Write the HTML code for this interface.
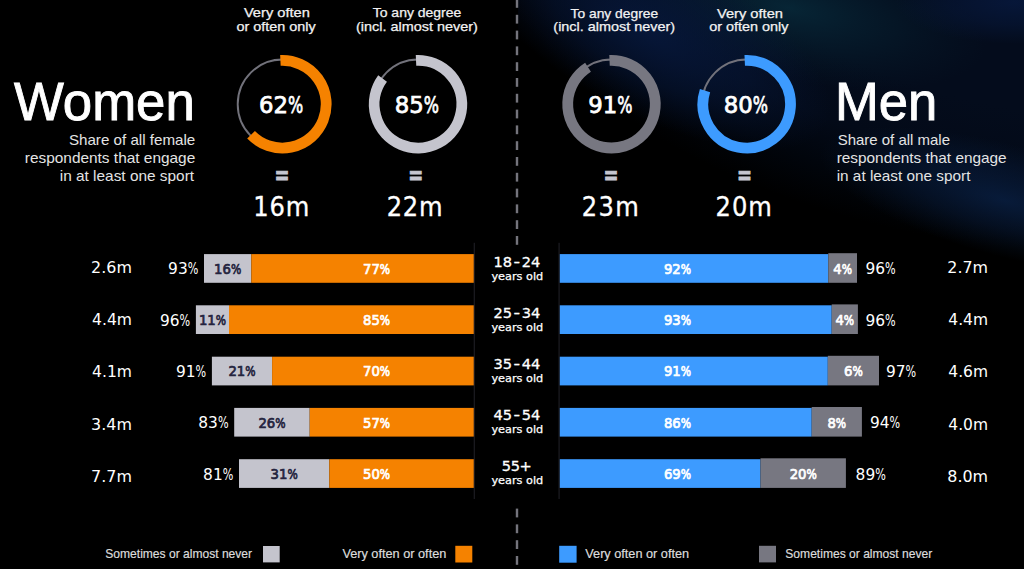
<!DOCTYPE html>
<html lang="en">
<head>
<meta charset="utf-8">
<title>Sports engagement: Women and Men</title>
<style>
html,body{margin:0;padding:0;background:#000;}
body{width:1024px;height:569px;overflow:hidden;position:relative;font-family:'Liberation Sans',sans-serif;}
svg{position:absolute;left:0;top:0;display:block;}
text{white-space:pre;}
</style>
</head>
<body>
<svg width="1024" height="569" viewBox="0 0 1024 569">
<defs>
<radialGradient id="base" gradientUnits="userSpaceOnUse" cx="0" cy="0" r="1" gradientTransform="translate(1124 -150) scale(664 404)">
<stop offset="0" stop-color="#040c1c"/><stop offset=".66" stop-color="#040c1c"/><stop offset=".8" stop-color="#030a18"/><stop offset=".9" stop-color="#01050c"/><stop offset="1" stop-color="#000"/>
</radialGradient>
<radialGradient id="gBlue"><stop offset="0" stop-color="#0a2248" stop-opacity=".75"/><stop offset=".5" stop-color="#0a2044" stop-opacity=".42"/><stop offset="1" stop-color="#0a2040" stop-opacity="0"/></radialGradient>
<radialGradient id="gTeal"><stop offset="0" stop-color="#083040" stop-opacity=".7"/><stop offset=".55" stop-color="#072838" stop-opacity=".33"/><stop offset="1" stop-color="#062030" stop-opacity="0"/></radialGradient>
<radialGradient id="gNavy"><stop offset="0" stop-color="#07183c" stop-opacity=".9"/><stop offset=".55" stop-color="#07183c" stop-opacity=".5"/><stop offset="1" stop-color="#07183c" stop-opacity="0"/></radialGradient>
<clipPath id="rh"><rect x="518" y="0" width="506" height="300"/></clipPath>
</defs>
<g clip-path="url(#rh)">
<rect x="518" y="0" width="506" height="300" fill="url(#base)"/>
<ellipse cx="1004" cy="200" rx="190" ry="56" fill="url(#gBlue)" transform="rotate(15 1004 200)"/>
<ellipse cx="790" cy="8" rx="200" ry="72" fill="url(#gTeal)" transform="rotate(12 790 8)"/>
<ellipse cx="650" cy="32" rx="200" ry="82" fill="url(#gNavy)" transform="rotate(28 650 32)"/>
<ellipse cx="1015" cy="2" rx="120" ry="42" fill="url(#gNavy)"/>
</g>
<rect x="515.8" y="-1.0" width="2.4" height="8.8" fill="#74747c"/>
<rect x="515.8" y="14.8" width="2.4" height="8.8" fill="#74747c"/>
<rect x="515.8" y="30.6" width="2.4" height="8.8" fill="#74747c"/>
<rect x="515.8" y="46.4" width="2.4" height="8.8" fill="#74747c"/>
<rect x="515.8" y="62.2" width="2.4" height="8.8" fill="#74747c"/>
<rect x="515.8" y="78.0" width="2.4" height="8.8" fill="#74747c"/>
<rect x="515.8" y="93.8" width="2.4" height="8.8" fill="#74747c"/>
<rect x="515.8" y="109.6" width="2.4" height="8.8" fill="#74747c"/>
<rect x="515.8" y="125.4" width="2.4" height="8.8" fill="#74747c"/>
<rect x="515.8" y="141.2" width="2.4" height="8.8" fill="#74747c"/>
<rect x="515.8" y="157.0" width="2.4" height="8.8" fill="#74747c"/>
<rect x="515.8" y="172.8" width="2.4" height="8.8" fill="#74747c"/>
<rect x="515.8" y="188.6" width="2.4" height="8.8" fill="#74747c"/>
<rect x="515.8" y="204.4" width="2.4" height="8.8" fill="#74747c"/>
<rect x="515.8" y="220.2" width="2.4" height="8.8" fill="#74747c"/>
<rect x="515.8" y="236.0" width="2.4" height="8.8" fill="#74747c"/>
<rect x="515.8" y="508.6" width="2.4" height="8.8" fill="#74747c"/>
<rect x="515.8" y="524.4" width="2.4" height="8.8" fill="#74747c"/>
<rect x="515.8" y="540.2" width="2.4" height="8.8" fill="#74747c"/>
<rect x="515.8" y="556.0" width="2.4" height="8.8" fill="#74747c"/>
<text x="243.93" y="17.2" font-family="'Liberation Sans', sans-serif" font-size="13" fill="#f2f2f2" textLength="65.91" lengthAdjust="spacingAndGlyphs" stroke="#f2f2f2" stroke-width="0.25">Very often</text>
<text x="236.53" y="30.9" font-family="'Liberation Sans', sans-serif" font-size="13" fill="#f2f2f2" textLength="79.1" lengthAdjust="spacingAndGlyphs" stroke="#f2f2f2" stroke-width="0.25">or often only</text>
<text x="372.73" y="17.2" font-family="'Liberation Sans', sans-serif" font-size="13" fill="#f2f2f2" textLength="88.6" lengthAdjust="spacingAndGlyphs" stroke="#f2f2f2" stroke-width="0.25">To any degree</text>
<text x="356.02" y="30.9" font-family="'Liberation Sans', sans-serif" font-size="13" fill="#f2f2f2" textLength="121.82" lengthAdjust="spacingAndGlyphs" stroke="#f2f2f2" stroke-width="0.25">(incl. almost never)</text>
<text x="570.62" y="17.8" font-family="'Liberation Sans', sans-serif" font-size="13" fill="#f2f2f2" textLength="87.49" lengthAdjust="spacingAndGlyphs" stroke="#f2f2f2" stroke-width="0.25">To any degree</text>
<text x="553.33" y="31.4" font-family="'Liberation Sans', sans-serif" font-size="13" fill="#f2f2f2" textLength="121.82" lengthAdjust="spacingAndGlyphs" stroke="#f2f2f2" stroke-width="0.25">(incl. almost never)</text>
<text x="716.92" y="17.8" font-family="'Liberation Sans', sans-serif" font-size="13" fill="#f2f2f2" textLength="66.11" lengthAdjust="spacingAndGlyphs" stroke="#f2f2f2" stroke-width="0.25">Very often</text>
<text x="709.23" y="31.4" font-family="'Liberation Sans', sans-serif" font-size="13" fill="#f2f2f2" textLength="79.3" lengthAdjust="spacingAndGlyphs" stroke="#f2f2f2" stroke-width="0.25">or often only</text>
<circle cx="282.4" cy="104.2" r="44.7" fill="none" stroke="#72727b" stroke-width="1.9"/>
<path d="M280.41 60.45 A43.800000000000004 43.800000000000004 0 1 1 251.05 134.79" fill="none" stroke="#f58200" stroke-width="10.8"/>
<circle cx="418.0" cy="104.2" r="44.7" fill="none" stroke="#72727b" stroke-width="1.9"/>
<path d="M416.01 60.45 A43.800000000000004 43.800000000000004 0 1 1 382.57 78.46" fill="none" stroke="#c4c4cd" stroke-width="10.8"/>
<circle cx="611.5" cy="104.2" r="44.7" fill="none" stroke="#72727b" stroke-width="1.9"/>
<path d="M609.51 60.45 A43.800000000000004 43.800000000000004 0 1 1 588.03 67.22" fill="none" stroke="#777781" stroke-width="10.8"/>
<circle cx="746.7" cy="104.2" r="44.7" fill="none" stroke="#72727b" stroke-width="1.9"/>
<path d="M744.71 60.45 A43.800000000000004 43.800000000000004 0 1 1 705.04 90.67" fill="none" stroke="#3d9bff" stroke-width="10.8"/>
<text x="281.1" y="113.0" font-family="'DejaVu Sans', 'Liberation Sans', sans-serif" font-size="22.8" text-anchor="middle" fill="#fff" stroke="#fff" stroke-width="0.75">62<tspan textLength="15.2" lengthAdjust="spacingAndGlyphs">%</tspan></text>
<text x="416.95" y="113.0" font-family="'DejaVu Sans', 'Liberation Sans', sans-serif" font-size="22.8" text-anchor="middle" fill="#fff" stroke="#fff" stroke-width="0.75">85<tspan textLength="15.2" lengthAdjust="spacingAndGlyphs">%</tspan></text>
<text x="610.35" y="113.0" font-family="'DejaVu Sans', 'Liberation Sans', sans-serif" font-size="22.8" text-anchor="middle" fill="#fff" stroke="#fff" stroke-width="0.75">91<tspan textLength="15.2" lengthAdjust="spacingAndGlyphs">%</tspan></text>
<text x="745.8" y="113.0" font-family="'DejaVu Sans', 'Liberation Sans', sans-serif" font-size="22.8" text-anchor="middle" fill="#fff" stroke="#fff" stroke-width="0.75">80<tspan textLength="15.2" lengthAdjust="spacingAndGlyphs">%</tspan></text>
<text x="282.0" y="183.9" font-family="'DejaVu Sans', 'Liberation Sans', sans-serif" font-size="25.3" text-anchor="middle" fill="#c6c6d0" font-weight="bold" textLength="15.0" lengthAdjust="spacingAndGlyphs" stroke="#c6c6d0" stroke-width="1.0">=</text>
<text x="415.7" y="183.9" font-family="'DejaVu Sans', 'Liberation Sans', sans-serif" font-size="25.3" text-anchor="middle" fill="#c6c6d0" font-weight="bold" textLength="15.0" lengthAdjust="spacingAndGlyphs" stroke="#c6c6d0" stroke-width="1.0">=</text>
<text x="610.9" y="183.9" font-family="'DejaVu Sans', 'Liberation Sans', sans-serif" font-size="25.3" text-anchor="middle" fill="#c6c6d0" font-weight="bold" textLength="15.0" lengthAdjust="spacingAndGlyphs" stroke="#c6c6d0" stroke-width="1.0">=</text>
<text x="744.6" y="183.9" font-family="'DejaVu Sans', 'Liberation Sans', sans-serif" font-size="25.3" text-anchor="middle" fill="#c6c6d0" font-weight="bold" textLength="15.0" lengthAdjust="spacingAndGlyphs" stroke="#c6c6d0" stroke-width="1.0">=</text>
<text x="253.35" y="215.5" font-family="'DejaVu Sans Condensed', 'DejaVu Sans', 'Liberation Sans', sans-serif" font-size="26.9" fill="#fff" textLength="55.88" lengthAdjust="spacing" stroke="#fff" stroke-width="0.3">16m</text>
<text x="386.65" y="215.5" font-family="'DejaVu Sans Condensed', 'DejaVu Sans', 'Liberation Sans', sans-serif" font-size="26.9" fill="#fff" textLength="55.88" lengthAdjust="spacing" stroke="#fff" stroke-width="0.3">22m</text>
<text x="581.85" y="215.5" font-family="'DejaVu Sans Condensed', 'DejaVu Sans', 'Liberation Sans', sans-serif" font-size="26.9" fill="#fff" textLength="56.93" lengthAdjust="spacing" stroke="#fff" stroke-width="0.3">23m</text>
<text x="715.45" y="215.5" font-family="'DejaVu Sans Condensed', 'DejaVu Sans', 'Liberation Sans', sans-serif" font-size="26.9" fill="#fff" textLength="56.48" lengthAdjust="spacing" stroke="#fff" stroke-width="0.3">20m</text>
<text x="13.95" y="120.3" font-family="'Liberation Sans', sans-serif" font-size="53.2" fill="#fff" textLength="180.86" lengthAdjust="spacingAndGlyphs" stroke="#fff" stroke-width="0.9">Women</text>
<text x="834.99" y="120.3" font-family="'Liberation Sans', sans-serif" font-size="53.2" fill="#fff" textLength="102.31" lengthAdjust="spacingAndGlyphs" stroke="#fff" stroke-width="0.9">Men</text>
<text x="68.9" y="145.4" font-family="'Liberation Sans', sans-serif" font-size="15" fill="#e4e4e4" textLength="126.35" lengthAdjust="spacingAndGlyphs">Share of all female</text>
<text x="24.77" y="162.9" font-family="'Liberation Sans', sans-serif" font-size="15" fill="#e4e4e4" textLength="170.48" lengthAdjust="spacingAndGlyphs">respondents that engage</text>
<text x="59.77" y="180.6" font-family="'Liberation Sans', sans-serif" font-size="15" fill="#e4e4e4" textLength="134.27" lengthAdjust="spacingAndGlyphs">in at least one sport</text>
<text x="837.7" y="145.4" font-family="'Liberation Sans', sans-serif" font-size="15" fill="#e4e4e4" textLength="112.34" lengthAdjust="spacingAndGlyphs">Share of all male</text>
<text x="836.68" y="162.9" font-family="'Liberation Sans', sans-serif" font-size="15" fill="#e4e4e4" textLength="169.97" lengthAdjust="spacingAndGlyphs">respondents that engage</text>
<text x="836.68" y="180.6" font-family="'Liberation Sans', sans-serif" font-size="15" fill="#e4e4e4" textLength="133.77" lengthAdjust="spacingAndGlyphs">in at least one sport</text>
<rect x="204.0" y="254.1" width="47.3" height="28.7" fill="#c4c4cd"/>
<rect x="251.3" y="254.1" width="223.0" height="28.7" fill="#f58200"/>
<text x="91.12" y="272.6" font-family="'DejaVu Sans', 'Liberation Sans', sans-serif" font-size="16.2" fill="#fff" textLength="40.84" lengthAdjust="spacingAndGlyphs">2.6m</text>
<text x="198.3" y="274.45" font-family="'DejaVu Sans', 'Liberation Sans', sans-serif" font-size="15.4" text-anchor="end" fill="#fff">93<tspan textLength="10.6" lengthAdjust="spacingAndGlyphs">%</tspan></text>
<text x="227.65" y="273.75" font-family="'DejaVu Sans Condensed', 'DejaVu Sans', 'Liberation Sans', sans-serif" font-size="14.7" text-anchor="middle" fill="#24243e" stroke="#24243e" stroke-width="0.7">16<tspan textLength="10.3" lengthAdjust="spacingAndGlyphs">%</tspan></text>
<text x="376.6" y="273.75" font-family="'DejaVu Sans Condensed', 'DejaVu Sans', 'Liberation Sans', sans-serif" font-size="14.7" text-anchor="middle" fill="#fff" stroke="#fff" stroke-width="0.7">77<tspan textLength="10.3" lengthAdjust="spacingAndGlyphs">%</tspan></text>
<rect x="559.4" y="254.1" width="268.9" height="28.7" fill="#3d9bff"/>
<rect x="828.3" y="253.2" width="28.7" height="29.6" fill="#777781"/>
<text x="947.32" y="272.6" font-family="'DejaVu Sans', 'Liberation Sans', sans-serif" font-size="16.2" fill="#fff" textLength="40.74" lengthAdjust="spacingAndGlyphs">2.7m</text>
<text x="865.4" y="274.45" font-family="'DejaVu Sans', 'Liberation Sans', sans-serif" font-size="15.4" fill="#fff">96<tspan textLength="10.6" lengthAdjust="spacingAndGlyphs">%</tspan></text>
<text x="842.65" y="273.75" font-family="'DejaVu Sans Condensed', 'DejaVu Sans', 'Liberation Sans', sans-serif" font-size="14.7" text-anchor="middle" fill="#fff" stroke="#fff" stroke-width="0.7">4<tspan textLength="10.3" lengthAdjust="spacingAndGlyphs">%</tspan></text>
<text x="677.5" y="273.75" font-family="'DejaVu Sans Condensed', 'DejaVu Sans', 'Liberation Sans', sans-serif" font-size="14.7" text-anchor="middle" fill="#fff" stroke="#fff" stroke-width="0.7">92<tspan textLength="10.3" lengthAdjust="spacingAndGlyphs">%</tspan></text>
<text x="493.4" y="267.1" font-family="'DejaVu Sans', 'Liberation Sans', sans-serif" font-size="14.6" fill="#fff" stroke="#fff" stroke-width="0.3">18<tspan dx="1.6" textLength="6.6" lengthAdjust="spacingAndGlyphs">-</tspan><tspan dx="1.6">24</tspan></text>
<text x="491.43" y="280.2" font-family="'DejaVu Sans', 'Liberation Sans', sans-serif" font-size="11.0" fill="#fff" textLength="51.76" lengthAdjust="spacingAndGlyphs" stroke="#fff" stroke-width="0.25">years old</text>
<rect x="195.9" y="305.3" width="33.1" height="28.7" fill="#c4c4cd"/>
<rect x="229.0" y="305.3" width="245.3" height="28.7" fill="#f58200"/>
<text x="92.1" y="324.7" font-family="'DejaVu Sans', 'Liberation Sans', sans-serif" font-size="16.2" fill="#fff" textLength="39.84" lengthAdjust="spacingAndGlyphs">4.4m</text>
<text x="190.2" y="325.65" font-family="'DejaVu Sans', 'Liberation Sans', sans-serif" font-size="15.4" text-anchor="end" fill="#fff">96<tspan textLength="10.6" lengthAdjust="spacingAndGlyphs">%</tspan></text>
<text x="212.45" y="324.95" font-family="'DejaVu Sans Condensed', 'DejaVu Sans', 'Liberation Sans', sans-serif" font-size="14.7" text-anchor="middle" fill="#24243e" stroke="#24243e" stroke-width="0.7">11<tspan textLength="10.3" lengthAdjust="spacingAndGlyphs">%</tspan></text>
<text x="376.6" y="324.95" font-family="'DejaVu Sans Condensed', 'DejaVu Sans', 'Liberation Sans', sans-serif" font-size="14.7" text-anchor="middle" fill="#fff" stroke="#fff" stroke-width="0.7">85<tspan textLength="10.3" lengthAdjust="spacingAndGlyphs">%</tspan></text>
<rect x="559.4" y="305.3" width="272.3" height="28.7" fill="#3d9bff"/>
<rect x="831.7" y="304.4" width="26.2" height="29.6" fill="#777781"/>
<text x="948.3" y="324.7" font-family="'DejaVu Sans', 'Liberation Sans', sans-serif" font-size="16.2" fill="#fff" textLength="39.74" lengthAdjust="spacingAndGlyphs">4.4m</text>
<text x="865.4" y="325.65" font-family="'DejaVu Sans', 'Liberation Sans', sans-serif" font-size="15.4" fill="#fff">96<tspan textLength="10.6" lengthAdjust="spacingAndGlyphs">%</tspan></text>
<text x="844.8" y="324.95" font-family="'DejaVu Sans Condensed', 'DejaVu Sans', 'Liberation Sans', sans-serif" font-size="14.7" text-anchor="middle" fill="#fff" stroke="#fff" stroke-width="0.7">4<tspan textLength="10.3" lengthAdjust="spacingAndGlyphs">%</tspan></text>
<text x="677.5" y="324.95" font-family="'DejaVu Sans Condensed', 'DejaVu Sans', 'Liberation Sans', sans-serif" font-size="14.7" text-anchor="middle" fill="#fff" stroke="#fff" stroke-width="0.7">93<tspan textLength="10.3" lengthAdjust="spacingAndGlyphs">%</tspan></text>
<text x="493.4" y="318.15" font-family="'DejaVu Sans', 'Liberation Sans', sans-serif" font-size="14.6" fill="#fff" stroke="#fff" stroke-width="0.3">25<tspan dx="1.6" textLength="6.6" lengthAdjust="spacingAndGlyphs">-</tspan><tspan dx="1.6">34</tspan></text>
<text x="491.43" y="331.25" font-family="'DejaVu Sans', 'Liberation Sans', sans-serif" font-size="11.0" fill="#fff" textLength="51.76" lengthAdjust="spacingAndGlyphs" stroke="#fff" stroke-width="0.25">years old</text>
<rect x="211.9" y="356.7" width="60.2" height="28.7" fill="#c4c4cd"/>
<rect x="272.1" y="356.7" width="202.2" height="28.7" fill="#f58200"/>
<text x="92.1" y="376.9" font-family="'DejaVu Sans', 'Liberation Sans', sans-serif" font-size="16.2" fill="#fff" textLength="39.84" lengthAdjust="spacingAndGlyphs">4.1m</text>
<text x="206.2" y="377.05" font-family="'DejaVu Sans', 'Liberation Sans', sans-serif" font-size="15.4" text-anchor="end" fill="#fff">91<tspan textLength="10.6" lengthAdjust="spacingAndGlyphs">%</tspan></text>
<text x="242.0" y="376.35" font-family="'DejaVu Sans Condensed', 'DejaVu Sans', 'Liberation Sans', sans-serif" font-size="14.7" text-anchor="middle" fill="#24243e" stroke="#24243e" stroke-width="0.7">21<tspan textLength="10.3" lengthAdjust="spacingAndGlyphs">%</tspan></text>
<text x="376.6" y="376.35" font-family="'DejaVu Sans Condensed', 'DejaVu Sans', 'Liberation Sans', sans-serif" font-size="14.7" text-anchor="middle" fill="#fff" stroke="#fff" stroke-width="0.7">70<tspan textLength="10.3" lengthAdjust="spacingAndGlyphs">%</tspan></text>
<rect x="559.4" y="356.7" width="268.4" height="28.7" fill="#3d9bff"/>
<rect x="827.8" y="355.8" width="51.2" height="29.6" fill="#777781"/>
<text x="948.3" y="376.9" font-family="'DejaVu Sans', 'Liberation Sans', sans-serif" font-size="16.2" fill="#fff" textLength="39.74" lengthAdjust="spacingAndGlyphs">4.6m</text>
<text x="885.9" y="377.05" font-family="'DejaVu Sans', 'Liberation Sans', sans-serif" font-size="15.4" fill="#fff">97<tspan textLength="10.6" lengthAdjust="spacingAndGlyphs">%</tspan></text>
<text x="853.4" y="376.35" font-family="'DejaVu Sans Condensed', 'DejaVu Sans', 'Liberation Sans', sans-serif" font-size="14.7" text-anchor="middle" fill="#fff" stroke="#fff" stroke-width="0.7">6<tspan textLength="10.3" lengthAdjust="spacingAndGlyphs">%</tspan></text>
<text x="677.5" y="376.35" font-family="'DejaVu Sans Condensed', 'DejaVu Sans', 'Liberation Sans', sans-serif" font-size="14.7" text-anchor="middle" fill="#fff" stroke="#fff" stroke-width="0.7">91<tspan textLength="10.3" lengthAdjust="spacingAndGlyphs">%</tspan></text>
<text x="493.4" y="369.2" font-family="'DejaVu Sans', 'Liberation Sans', sans-serif" font-size="14.6" fill="#fff" stroke="#fff" stroke-width="0.3">35<tspan dx="1.6" textLength="6.6" lengthAdjust="spacingAndGlyphs">-</tspan><tspan dx="1.6">44</tspan></text>
<text x="491.43" y="382.3" font-family="'DejaVu Sans', 'Liberation Sans', sans-serif" font-size="11.0" fill="#fff" textLength="51.76" lengthAdjust="spacingAndGlyphs" stroke="#fff" stroke-width="0.25">years old</text>
<rect x="234.2" y="407.9" width="75.5" height="28.7" fill="#c4c4cd"/>
<rect x="309.7" y="407.9" width="164.6" height="28.7" fill="#f58200"/>
<text x="91.12" y="429.7" font-family="'DejaVu Sans', 'Liberation Sans', sans-serif" font-size="16.2" fill="#fff" textLength="40.84" lengthAdjust="spacingAndGlyphs">3.4m</text>
<text x="228.5" y="428.25" font-family="'DejaVu Sans', 'Liberation Sans', sans-serif" font-size="15.4" text-anchor="end" fill="#fff">83<tspan textLength="10.6" lengthAdjust="spacingAndGlyphs">%</tspan></text>
<text x="271.95" y="427.55" font-family="'DejaVu Sans Condensed', 'DejaVu Sans', 'Liberation Sans', sans-serif" font-size="14.7" text-anchor="middle" fill="#24243e" stroke="#24243e" stroke-width="0.7">26<tspan textLength="10.3" lengthAdjust="spacingAndGlyphs">%</tspan></text>
<text x="376.6" y="427.55" font-family="'DejaVu Sans Condensed', 'DejaVu Sans', 'Liberation Sans', sans-serif" font-size="14.7" text-anchor="middle" fill="#fff" stroke="#fff" stroke-width="0.7">57<tspan textLength="10.3" lengthAdjust="spacingAndGlyphs">%</tspan></text>
<rect x="559.4" y="407.9" width="252.3" height="28.7" fill="#3d9bff"/>
<rect x="811.7" y="407.0" width="50.2" height="29.6" fill="#777781"/>
<text x="948.3" y="429.7" font-family="'DejaVu Sans', 'Liberation Sans', sans-serif" font-size="16.2" fill="#fff" textLength="39.74" lengthAdjust="spacingAndGlyphs">4.0m</text>
<text x="869.9" y="428.25" font-family="'DejaVu Sans', 'Liberation Sans', sans-serif" font-size="15.4" fill="#fff">94<tspan textLength="10.6" lengthAdjust="spacingAndGlyphs">%</tspan></text>
<text x="836.8" y="427.55" font-family="'DejaVu Sans Condensed', 'DejaVu Sans', 'Liberation Sans', sans-serif" font-size="14.7" text-anchor="middle" fill="#fff" stroke="#fff" stroke-width="0.7">8<tspan textLength="10.3" lengthAdjust="spacingAndGlyphs">%</tspan></text>
<text x="677.5" y="427.55" font-family="'DejaVu Sans Condensed', 'DejaVu Sans', 'Liberation Sans', sans-serif" font-size="14.7" text-anchor="middle" fill="#fff" stroke="#fff" stroke-width="0.7">86<tspan textLength="10.3" lengthAdjust="spacingAndGlyphs">%</tspan></text>
<text x="493.4" y="420.25" font-family="'DejaVu Sans', 'Liberation Sans', sans-serif" font-size="14.6" fill="#fff" stroke="#fff" stroke-width="0.3">45<tspan dx="1.6" textLength="6.6" lengthAdjust="spacingAndGlyphs">-</tspan><tspan dx="1.6">54</tspan></text>
<text x="491.43" y="433.35" font-family="'DejaVu Sans', 'Liberation Sans', sans-serif" font-size="11.0" fill="#fff" textLength="51.76" lengthAdjust="spacingAndGlyphs" stroke="#fff" stroke-width="0.25">years old</text>
<rect x="239.0" y="459.2" width="90.3" height="28.7" fill="#c4c4cd"/>
<rect x="329.3" y="459.2" width="145.0" height="28.7" fill="#f58200"/>
<text x="91.12" y="482.2" font-family="'DejaVu Sans', 'Liberation Sans', sans-serif" font-size="16.2" fill="#fff" textLength="40.84" lengthAdjust="spacingAndGlyphs">7.7m</text>
<text x="233.3" y="479.55" font-family="'DejaVu Sans', 'Liberation Sans', sans-serif" font-size="15.4" text-anchor="end" fill="#fff">81<tspan textLength="10.6" lengthAdjust="spacingAndGlyphs">%</tspan></text>
<text x="284.15" y="478.85" font-family="'DejaVu Sans Condensed', 'DejaVu Sans', 'Liberation Sans', sans-serif" font-size="14.7" text-anchor="middle" fill="#24243e" stroke="#24243e" stroke-width="0.7">31<tspan textLength="10.3" lengthAdjust="spacingAndGlyphs">%</tspan></text>
<text x="376.6" y="478.85" font-family="'DejaVu Sans Condensed', 'DejaVu Sans', 'Liberation Sans', sans-serif" font-size="14.7" text-anchor="middle" fill="#fff" stroke="#fff" stroke-width="0.7">50<tspan textLength="10.3" lengthAdjust="spacingAndGlyphs">%</tspan></text>
<rect x="559.4" y="459.2" width="201.1" height="28.7" fill="#3d9bff"/>
<rect x="760.5" y="458.3" width="85.4" height="29.6" fill="#777781"/>
<text x="947.32" y="482.2" font-family="'DejaVu Sans', 'Liberation Sans', sans-serif" font-size="16.2" fill="#fff" textLength="40.74" lengthAdjust="spacingAndGlyphs">8.0m</text>
<text x="855.6" y="479.55" font-family="'DejaVu Sans', 'Liberation Sans', sans-serif" font-size="15.4" fill="#fff">89<tspan textLength="10.6" lengthAdjust="spacingAndGlyphs">%</tspan></text>
<text x="803.2" y="478.85" font-family="'DejaVu Sans Condensed', 'DejaVu Sans', 'Liberation Sans', sans-serif" font-size="14.7" text-anchor="middle" fill="#fff" stroke="#fff" stroke-width="0.7">20<tspan textLength="10.3" lengthAdjust="spacingAndGlyphs">%</tspan></text>
<text x="677.5" y="478.85" font-family="'DejaVu Sans Condensed', 'DejaVu Sans', 'Liberation Sans', sans-serif" font-size="14.7" text-anchor="middle" fill="#fff" stroke="#fff" stroke-width="0.7">69<tspan textLength="10.3" lengthAdjust="spacingAndGlyphs">%</tspan></text>
<text x="501.75" y="471.3" font-family="'DejaVu Sans', 'Liberation Sans', sans-serif" font-size="14.6" fill="#fff" textLength="30.09" lengthAdjust="spacing" stroke="#fff" stroke-width="0.3">55+</text>
<text x="491.43" y="484.4" font-family="'DejaVu Sans', 'Liberation Sans', sans-serif" font-size="11.0" fill="#fff" textLength="51.76" lengthAdjust="spacingAndGlyphs" stroke="#fff" stroke-width="0.25">years old</text>
<rect x="473.7" y="242.8" width="1.2" height="256.2" fill="#1c1c22"/>
<rect x="558.5" y="242.8" width="1.2" height="256.2" fill="#1c1c22"/>
<text x="105.3" y="558.4" font-family="'Liberation Sans', sans-serif" font-size="13" fill="#dcdcdc" textLength="146.78" lengthAdjust="spacingAndGlyphs" stroke="#dcdcdc" stroke-width="0.2">Sometimes or almost never</text>
<rect x="263" y="546" width="16.7" height="16.4" fill="#c4c4cd"/>
<text x="342.4" y="558.4" font-family="'Liberation Sans', sans-serif" font-size="13" fill="#dcdcdc" textLength="103.92" lengthAdjust="spacingAndGlyphs" stroke="#dcdcdc" stroke-width="0.2">Very often or often</text>
<rect x="455.3" y="545.8" width="17" height="16.7" fill="#f58200"/>
<rect x="559.2" y="545.8" width="17.4" height="16.9" fill="#3d9bff"/>
<text x="585.3" y="558.4" font-family="'Liberation Sans', sans-serif" font-size="13" fill="#dcdcdc" textLength="103.82" lengthAdjust="spacingAndGlyphs" stroke="#dcdcdc" stroke-width="0.2">Very often or often</text>
<rect x="759" y="545.8" width="17" height="16.6" fill="#777781"/>
<text x="785.3" y="558.4" font-family="'Liberation Sans', sans-serif" font-size="13" fill="#dcdcdc" textLength="146.98" lengthAdjust="spacingAndGlyphs" stroke="#dcdcdc" stroke-width="0.2">Sometimes or almost never</text>
</svg>
</body>
</html>
